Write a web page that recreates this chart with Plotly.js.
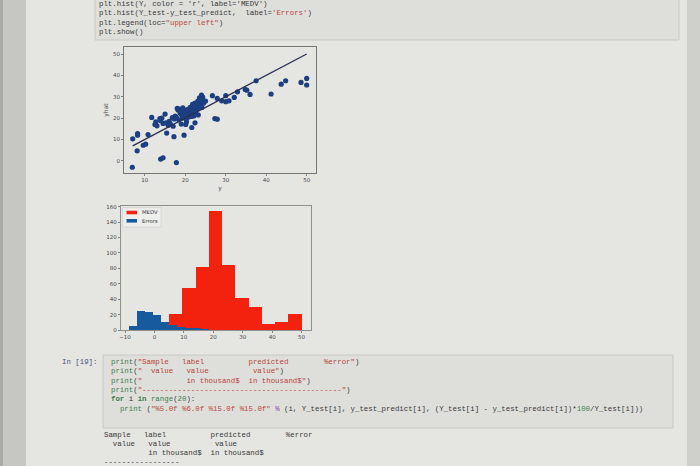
<!DOCTYPE html>
<html>
<head>
<meta charset="utf-8">
<script src="https://cdn.plot.ly/plotly-3.0.1.min.js"></script>
<style>html,body{margin:0;padding:0;background:#e4e4e1;}#chart{width:700px;height:466px;}</style>
</head>
<body>
<div id="chart"></div>
<script>
// ---- scatter: true value (y) vs predicted (yhat) ----
const yTest = [7,8.2,8.2,8.1,6.9,9.6,10.2,10.8,11.7,12.5,12.7,13.0,13.7,13.9,13.9,14.5,15,15.4,15.8,17.2,17.8,19.7,20.3,21.6,22.4,24.0,26.7,27.3,27.9,27.9,29.0,30.0,30.8,30.0,32.1,32.9,34.8,35.2,36.0,37.5,41.2,43.7,44.8,48.6,50,50,
  14.2,14.5,15.2,16.0,16.3,16.8,17.0,17.3,17.5,17.8,18.0,18.2,18.4,18.5,18.7,18.9,19.0,19.1,19.3,19.4,19.5,19.7,19.8,20.0,20.1,20.2,20.4,20.5,20.6,20.8,21.0,21.1,21.2,21.4,21.5,21.7,21.8,22.0,22.1,22.3,22.4,22.5,22.6,22.8,23.0,23.1,23.2,23.3,23.5,23.6,23.8,24.0,24.1,24.3,24.5,25.0];
const yPred = [10.3,12.8,12.0,4.7,-3.0,7.3,7.8,12.3,20.3,17.0,18.2,16.4,19.8,18.8,0.8,1.4,21.9,13.0,16.7,11.3,-0.8,12.0,18.3,15.6,17.8,30.8,30.5,19.8,19.5,29.2,28.1,27.7,28.1,30.5,29.7,32.3,33.4,33.1,31.1,37.5,31.3,35.9,37.5,36.7,38.6,35.5,
  20.0,17.5,17.8,18.5,17.3,20.2,16.2,19.6,21.0,20.4,24.6,23.8,19.2,24.2,22.4,23.2,17.2,21.5,20.0,24.8,22.0,23.5,21.0,22.8,17.0,19.6,21.5,24.0,22.5,20.5,23.0,21.8,25.0,22.2,20.8,24.2,26.5,23.5,21.0,25.5,27.0,23.0,21.8,26.0,24.5,28.0,21.5,25.5,29.5,27.5,26.5,28.5,25.0,29.8,27.0,28.0];
const lineX = [7, 50];
const lineY = [7, 50];

// ---- histogram: MEDV and errors ----
const medvEdges = [5,9.5,14,18.5,23,27.5,32,36.5,41,45.5,50];
const medvCounts = [21,55,82,154,84,41,30,8,10,21];
const errEdges = [-8.5,-5.8,-3.1,-0.4,2.3,5.0,7.7,10.4,13.1,15.8,18.5];
const errCounts = [5,25,24,20,11,7,4,3,2,1];
const legendLabels = ['MEDV', 'Errors'];
const legendColors = ['#f2220f', '#185a9e'];

// ---- code text ----
const topCode = [
  "plt.hist(Y, color = 'r', label='MEDV')",
  "plt.hist(Y_test-y_test_predict,  label=<span style=\"color:#b8473c\">'Errors'</span>)",
  "plt.legend(loc=<span style=\"color:#b8473c\">\"upper left\"</span>)",
  "plt.show()"
];
const cellCode = [
  "<span style=\"color:#3f7d52\">print</span>(<span style=\"color:#b8473c\">\"Sample   label          predicted        %error\"</span>)",
  "<span style=\"color:#3f7d52\">print</span>(<span style=\"color:#b8473c\">\"  value   value          value\"</span>)",
  "<span style=\"color:#3f7d52\">print</span>(<span style=\"color:#b8473c\">\"          in thousand$  in thousand$\"</span>)",
  "<span style=\"color:#3f7d52\">print</span>(<span style=\"color:#b8473c\">\"---------------------------------------------\"</span>)",
  "<span style=\"color:#3f7d52\"><b>for</b></span> i <span style=\"color:#3f7d52\"><b>in</b></span> <span style=\"color:#3f7d52\">range</span>(<span style=\"color:#3f7d52\">20</span>):",
  "  <span style=\"color:#3f7d52\">print</span> (<span style=\"color:#b8473c\">\"%5.0f %6.0f %15.0f %15.0f\"</span> <span style=\"color:#8a4fa0\">%</span> (i, Y_test[i], y_test_predict[i], (Y_test[i] - y_test_predict[i])*<span style=\"color:#3f7d52\">100</span>/Y_test[i]))"
];
const outText = [
  "Sample   label          predicted        %error",
  "  value   value          value",
  "          in thousand$  in thousand$",
  "-----------------"
];

function centers(e){ const c=[]; for(let i=0;i<e.length-1;i++) c.push((e[i]+e[i+1])/2); return c; }
function widths(e){ const w=[]; for(let i=0;i<e.length-1;i++) w.push(e[i+1]-e[i]); return w; }
function nb(s){ return s.replace(/(<[^>]*>)|( )/g, (m, tag) => tag ? tag : '\u00A0'); }

const W = 700, H = 466;
const px = x => x / W;
const py = y => 1 - y / H;

const traces = [
  {type:'scatter', mode:'markers', x:yTest, y:yPred, xaxis:'x', yaxis:'y', showlegend:false,
   marker:{size:5.2, color:'#1c3f82'}},
  {type:'scatter', mode:'lines', x:lineX, y:lineY, xaxis:'x', yaxis:'y', showlegend:false,
   line:{color:'#2b3152', width:1.3}},
  {type:'bar', name:legendLabels[0], x:centers(medvEdges), y:medvCounts, width:widths(medvEdges), xaxis:'x2', yaxis:'y2',
   showlegend:false, marker:{color:legendColors[0], line:{width:0}}},
  {type:'bar', name:legendLabels[1], x:centers(errEdges), y:errCounts, width:widths(errEdges), xaxis:'x2', yaxis:'y2',
   showlegend:false, marker:{color:legendColors[1], line:{width:0}}}
];

const mono = "Liberation Mono, DejaVu Sans Mono, monospace";
const annotations = [];
const topY = [3.6, 13.2, 22.8, 32.4];
topCode.forEach((t,i)=>{
  annotations.push({xref:'paper', yref:'paper', x:px(97), y:py(topY[i]), xanchor:'left', yanchor:'middle',
    text:nb(t), showarrow:false, font:{family:mono, size:7.4, color:'#3a3a3a'}});
});
cellCode.forEach((t,i)=>{
  annotations.push({xref:'paper', yref:'paper', x:px(109), y:py(362 + i*9.3), xanchor:'left', yanchor:'middle',
    text:nb(t), showarrow:false, font:{family:mono, size:7.4, color:'#3a3a3a'}});
});
const outY = [435, 444.2, 453.4, 461.6];
outText.forEach((t,i)=>{
  annotations.push({xref:'paper', yref:'paper', x:px(103), y:py(outY[i]), xanchor:'left', yanchor:'middle',
    text:nb(t), showarrow:false, borderpad:0, font:{family:mono, size:7.4, color:'#3a3a3a'}});
});
annotations.push({xref:'paper', yref:'paper', x:px(60), y:py(362), xanchor:'left', yanchor:'middle',
  text:nb('In [19]:'), showarrow:false, font:{family:mono, size:7.4, color:'#4a5278'}});

const shapes = [
  {type:'rect', xref:'paper', yref:'paper', x0:0, x1:px(26), y0:0, y1:1, fillcolor:'#c6c6c2', line:{width:0}, layer:'below'},
  {type:'rect', xref:'paper', yref:'paper', x0:0, x1:px(3), y0:0, y1:1, fillcolor:'#a9a9a5', line:{width:0}, layer:'below'},
  {type:'rect', xref:'paper', yref:'paper', x0:px(687), x1:1, y0:0, y1:1, fillcolor:'#cfcfcb', line:{width:0}, layer:'below'},
  {type:'rect', xref:'paper', yref:'paper', x0:px(26), x1:px(687), y0:0, y1:1, fillcolor:'#e5e5e2', line:{width:0}, layer:'below'},
  {type:'rect', xref:'paper', yref:'paper', x0:px(95), x1:px(679), y0:py(40), y1:py(-5), fillcolor:'#dededa', line:{color:'#c8c8c4', width:1}, layer:'below'},
  {type:'rect', xref:'paper', yref:'paper', x0:px(103), x1:px(673), y0:py(428), y1:py(355), fillcolor:'#dededa', line:{color:'#c8c8c4', width:1}, layer:'below'},
  {type:'rect', xref:'paper', yref:'paper', x0:px(122.7), x1:px(161), y0:py(227), y1:py(207.7), fillcolor:'rgba(240,240,238,0.85)', line:{color:'#cfcfcc', width:0.7}}
];
legendLabels.forEach((lab,i)=>{
  const yc = 212.5 + i*8.3;
  shapes.push({type:'rect', xref:'paper', yref:'paper', x0:px(126.5), x1:px(137), y0:py(yc+1.8), y1:py(yc-1.8), fillcolor:legendColors[i], line:{width:0}});
  annotations.push({xref:'paper', yref:'paper', x:px(140.5), y:py(yc), xanchor:'left', yanchor:'middle', text:lab, showarrow:false,
    borderpad:0, font:{family:'DejaVu Sans, sans-serif', size:5.3, color:'#333'}});
});

const tickFont = {family:'DejaVu Sans, sans-serif', size:5.5, color:'#4a4a4a'};
const axBase = {showgrid:false, zeroline:false, showline:true, mirror:true, linecolor:'#5a5a5a', linewidth:0.8,
  ticks:'outside', ticklen:2, tickwidth:0.7, tickcolor:'#5a5a5a', tickfont:tickFont, automargin:false};

const layout = {
  width:W, height:H, margin:{l:0, r:0, t:0, b:0}, showlegend:false,
  paper_bgcolor:'#e4e4e1', plot_bgcolor:'rgba(0,0,0,0)',
  barmode:'overlay', bargap:0,
  xaxis: Object.assign({}, axBase, {domain:[px(124), px(316)], range:[4.85, 52.3], tickvals:[10,20,30,40,50], anchor:'y',
    title:{text:'y', font:{family:'DejaVu Sans, sans-serif', size:6, color:'#4a4a4a'}, standoff:3}}),
  yaxis: Object.assign({}, axBase, {domain:[py(173), py(47)], range:[-5.7, 53.3], tickvals:[0,10,20,30,40,50], anchor:'x',
    title:{text:'yhat', font:{family:'DejaVu Sans, sans-serif', size:6, color:'#4a4a4a'}, standoff:3}}),
  xaxis2: Object.assign({}, axBase, {domain:[px(120.7), px(311)], range:[-11.46, 53.2], tickvals:[-10,0,10,20,30,40,50], anchor:'y2', linecolor:'#7a7a7a'}),
  yaxis2: Object.assign({}, axBase, {domain:[py(330), py(205.7)], range:[0, 161.3], tickvals:[0,20,40,60,80,100,120,140,160], anchor:'x2', linecolor:'#7a7a7a'}),
  shapes:shapes, annotations:annotations
};

Plotly.newPlot('chart', traces, layout, {displayModeBar:false, staticPlot:true});
</script>
</body>
</html>
